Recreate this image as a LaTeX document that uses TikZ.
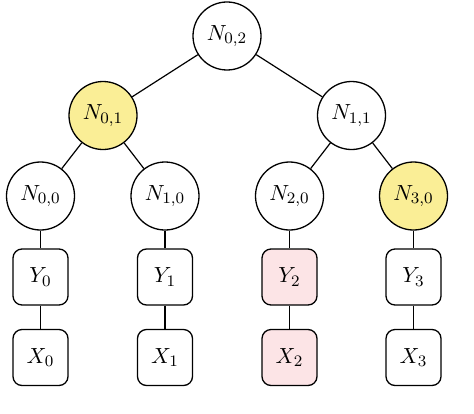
\documentclass[tikz,border=0pt]{standalone}
\usepackage{tikz}
\definecolor{selyellow}{RGB}{250,238,150}
\definecolor{selpink}{RGB}{252,228,230}
\tikzset{
  treenode/.style={circle,draw,line width=0.65pt,minimum size=34pt,inner sep=0pt,fill=white,font=\fontsize{11.3}{13}\selectfont},
  leafbox/.style={rectangle,rounded corners=4.5pt,draw,line width=0.65pt,minimum width=27.5pt,minimum height=28pt,inner sep=0pt,fill=white,font=\fontsize{11.3}{13}\selectfont},
  edge/.style={line width=0.6pt}
}
\begin{document}
\begin{tikzpicture}[x=1pt,y=1pt]
\useasboundingbox (0,0) rectangle (237,206.5);
\node[treenode] (n02) at (113.5,188.5) {$N_{0,2}$};
\node[treenode,fill=selyellow] (n01) at (51.5,148.75) {$N_{0,1}$};
\node[treenode] (n11) at (175.75,148.75) {$N_{1,1}$};
\node[treenode] (n00) at (20.25,108.5) {$N_{0,0}$};
\node[treenode] (n10) at (82.5,108.5) {$N_{1,0}$};
\node[treenode] (n20) at (144.75,108.5) {$N_{2,0}$};
\node[treenode,fill=selyellow] (n30) at (206.75,108.5) {$N_{3,0}$};
\node[leafbox] (y0) at (20.25,68) {$Y_0$};
\node[leafbox] (y1) at (82.5,68) {$Y_1$};
\node[leafbox,fill=selpink] (y2) at (144.75,68) {$Y_2$};
\node[leafbox] (y3) at (206.75,68) {$Y_3$};
\node[leafbox] (x0) at (20.25,27.75) {$X_0$};
\node[leafbox] (x1) at (82.5,27.75) {$X_1$};
\node[leafbox,fill=selpink] (x2) at (144.75,27.75) {$X_2$};
\node[leafbox] (x3) at (206.75,27.75) {$X_3$};
\draw[edge] (n02) -- (n01);
\draw[edge] (n02) -- (n11);
\draw[edge] (n01) -- (n00);
\draw[edge] (n01) -- (n10);
\draw[edge] (n11) -- (n20);
\draw[edge] (n11) -- (n30);
\draw[edge] (n00) -- (y0);
\draw[edge] (n10) -- (y1);
\draw[edge] (n20) -- (y2);
\draw[edge] (n30) -- (y3);
\draw[edge] (y0) -- (x0);
\draw[edge] (y1) -- (x1);
\draw[edge] (y2) -- (x2);
\draw[edge] (y3) -- (x3);
\end{tikzpicture}
\end{document}
